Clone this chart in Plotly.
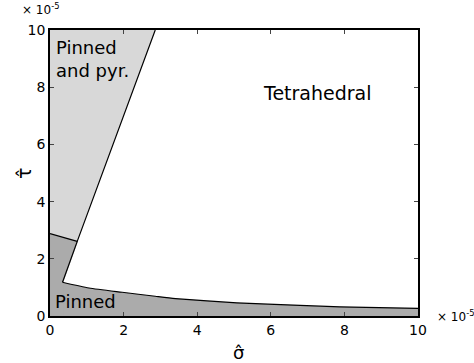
import plotly.graph_objects as go

# boundary data (units of 1e-5)
curve_x = [0.34, 1.06, 1.96, 2.86, 3.41, 5.08, 6.79, 7.88, 10.0]
curve_y = [1.18, 0.98, 0.83, 0.69, 0.61, 0.46, 0.37, 0.32, 0.27]
pyr_line_x = [0.34, 0.74, 2.86]
pyr_line_y = [1.18, 2.61, 10.0]
pinned_top_x = [0.0, 0.74]
pinned_top_y = [2.88, 2.61]

dark = "#ababab"
light = "#d8d8d8"

fig = go.Figure()

# Pinned region (dark): filled down to zero under the curve
fig.add_trace(go.Scatter(x=curve_x, y=curve_y, fill="tozeroy", fillcolor=dark, mode="lines",
                         line=dict(width=0, shape="spline", smoothing=0.6),
                         hoverinfo="skip", showlegend=False))
px = [0.0, 0.0, pinned_top_x[1], pyr_line_x[0], pyr_line_x[0], 0.0]
py = [0.0, pinned_top_y[0], pinned_top_y[1], pyr_line_y[0], 0.0, 0.0]
fig.add_trace(go.Scatter(x=px, y=py, fill="toself", fillcolor=dark, mode="lines",
                         line=dict(width=1.5, color=dark), hoverinfo="skip", showlegend=False))

# Pinned and pyramidal region (light)
lx = [pinned_top_x[0], 0.0, pyr_line_x[2], pyr_line_x[1], pinned_top_x[0]]
ly = [pinned_top_y[0], 10.0, pyr_line_y[2], pyr_line_y[1], pinned_top_y[0]]
fig.add_trace(go.Scatter(x=lx, y=ly, fill="toself", fillcolor=light, mode="lines",
                         line=dict(width=0), hoverinfo="skip", showlegend=False))

# boundary lines
fig.add_trace(go.Scatter(x=curve_x, y=curve_y, mode="lines",
                         line=dict(color="black", width=1.2, shape="spline", smoothing=0.6),
                         hoverinfo="skip", showlegend=False))
for xs, ys in [(pyr_line_x, pyr_line_y), (pinned_top_x, pinned_top_y)]:
    fig.add_trace(go.Scatter(x=xs, y=ys, mode="lines", line=dict(color="black", width=1.2),
                             hoverinfo="skip", showlegend=False))

font = "DejaVu Sans"
W, H = 474, 363
L, R, T, B = 50, 56, 30, 47
PW, PH = W - L - R, H - T - B


def px2paper(xp, yp):
    # pixel coordinates -> paper coordinates
    return (xp - L) / PW, (H - yp - B) / PH


fig.update_layout(
    width=W, height=H,
    margin=dict(l=L, r=R, t=T, b=B),
    plot_bgcolor="white", paper_bgcolor="white",
    font=dict(family=font, size=13, color="black"),
    xaxis=dict(range=[0, 10], tickvals=[0, 2, 4, 6, 8, 10], ticks="inside", ticklen=4,
               showgrid=False, zeroline=False, showline=True, linecolor="black", linewidth=1.5,
               mirror="ticks", tickfont=dict(size=14)),
    yaxis=dict(range=[0, 10], tickvals=[0, 2, 4, 6, 8, 10], ticks="inside", ticklen=4,
               showgrid=False, zeroline=False, showline=True, linecolor="black", linewidth=1.5,
               mirror="ticks", tickfont=dict(size=14)),
)

a1 = px2paper(20, 9)
a2 = px2paper(435, 316)
ax_t = px2paper(238, 352)
ay_t = px2paper(11, 174)
anns = [
    dict(x=7.28, y=7.8, xref="x", yref="y", text="Tetrahedral", showarrow=False,
         font=dict(size=19)),
    dict(x=0.12, y=9.0, xref="x", yref="y", text="Pinned<br>and pyr.", showarrow=False,
         xanchor="left", align="left", font=dict(size=18)),
    dict(x=0.08, y=0.5, xref="x", yref="y", text="Pinned", showarrow=False,
         xanchor="left", font=dict(size=18)),
    dict(x=a1[0], y=a1[1], xref="paper", yref="paper", text="× 10<sup>-5</sup>", showarrow=False,
         xanchor="left", yanchor="middle", font=dict(size=12)),
    dict(x=a2[0], y=a2[1], xref="paper", yref="paper", text="× 10<sup>-5</sup>", showarrow=False,
         xanchor="left", yanchor="middle", font=dict(size=12)),
    dict(x=ax_t[0], y=ax_t[1], xref="paper", yref="paper", text="σ̂", showarrow=False,
         font=dict(size=18), yanchor="middle"),
    dict(x=ay_t[0], y=ay_t[1], xref="paper", yref="paper", text="τ̂", showarrow=False,
         textangle=-90, font=dict(size=19)),
]
fig.update_layout(annotations=anns)

fig.write_html("out.html", config={"displayModeBar": False},
               post_script="document.body.style.margin='0';")
